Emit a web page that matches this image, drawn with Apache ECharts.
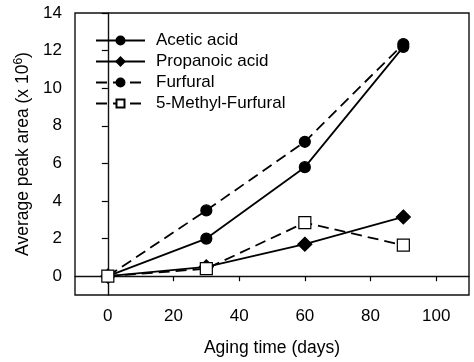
<!DOCTYPE html>
<html><head><meta charset="utf-8">
<script src="https://cdn.jsdelivr.net/npm/echarts@6/dist/echarts.min.js"></script>
<style>html,body{margin:0;padding:0;background:#fff}#c{width:474px;height:362px}</style>
</head><body><div id="c"></div>
<script>
const days = [0, 30, 60, 90];
const aceticAcid = [0, 2.0, 5.8, 12.2];
const propanoicAcid = [0, 0.5, 1.7, 3.15];
const furfural = [0, 3.5, 7.15, 12.35];
const methylFurfural = [0, 0.4, 2.85, 1.65];
const xTicks = [0, 20, 40, 60, 80, 100];
const yTicks = [0, 2, 4, 6, 8, 10, 12, 14];
const names = ['Acetic acid', 'Propanoic acid', 'Furfural', '5-Methyl-Furfural'];

const pair = ys => days.map((d, i) => [d, ys[i]]);
const font = 'Liberation Sans, Arial, sans-serif';
const chart = echarts.init(document.getElementById('c'));
function mk(name, ys, type, symbol, size, fill) {
  return {
    name, type: 'line', data: pair(ys), symbol, symbolSize: size,
    lineStyle: { color: '#000', width: 1.8, type: type === 'dashed' ? [11, 6] : 'solid' },
    itemStyle: { color: fill, borderColor: '#000', borderWidth: 1.2 },
    emphasis: { disabled: true }, animation: false, z: fill === '#fff' ? 3 : 2
  };
}
chart.setOption({
  animation: false,
  grid: { left: 75, right: 5, top: 13, bottom: 67, show: true, borderColor: '#111', borderWidth: 1.4 },
  legend: {
    orient: 'vertical', left: 90, top: 27, padding: 5, itemWidth: 49, itemHeight: 10, itemGap: 4,
    data: names,
    textStyle: { fontFamily: font, fontSize: 17, color: '#000', padding: [0, 0, 0, 6] }
  },
  xAxis: {
    type: 'value', min: -10, max: 110,
    name: 'Aging time (days)', nameLocation: 'middle', nameGap: 44,
    nameTextStyle: { fontFamily: font, fontSize: 17.5, color: '#000' },
    axisLine: { lineStyle: { color: '#111', width: 1.4 } },
    axisTick: { show: true, length: 5, inside: false, lineStyle: { color: '#000', width: 1.2 }, customValues: xTicks },
    axisLabel: { fontFamily: font, fontSize: 17, color: '#000', margin: 13, customValues: xTicks },
    splitLine: { show: false }
  },
  yAxis: {
    type: 'value', min: -1, max: 14,
    name: 'Average peak area (x 10{sup|6})', nameLocation: 'middle', nameGap: 40,
    nameTextStyle: { fontFamily: font, fontSize: 17.5, color: '#000',
      rich: { sup: { fontFamily: font, fontSize: 12, color: '#000', verticalAlign: 'top', padding: [0, 0, 10, 0] } } },
    axisLine: { lineStyle: { color: '#111', width: 1.4 } },
    axisTick: { show: true, length: 6, inside: false, lineStyle: { color: '#000', width: 1.2 }, customValues: yTicks },
    axisLabel: { fontFamily: font, fontSize: 17, color: '#000', margin: 13, customValues: yTicks },
    splitLine: { show: false }
  },
  series: [
    mk(names[0], aceticAcid, 'solid', 'circle', 11, '#000'),
    mk(names[1], propanoicAcid, 'solid', 'diamond', 14, '#000'),
    mk(names[2], furfural, 'dashed', 'circle', 11, '#000'),
    mk(names[3], methylFurfural, 'dashed', 'rect', 12, '#fff')
  ]
});
</script></body></html>
